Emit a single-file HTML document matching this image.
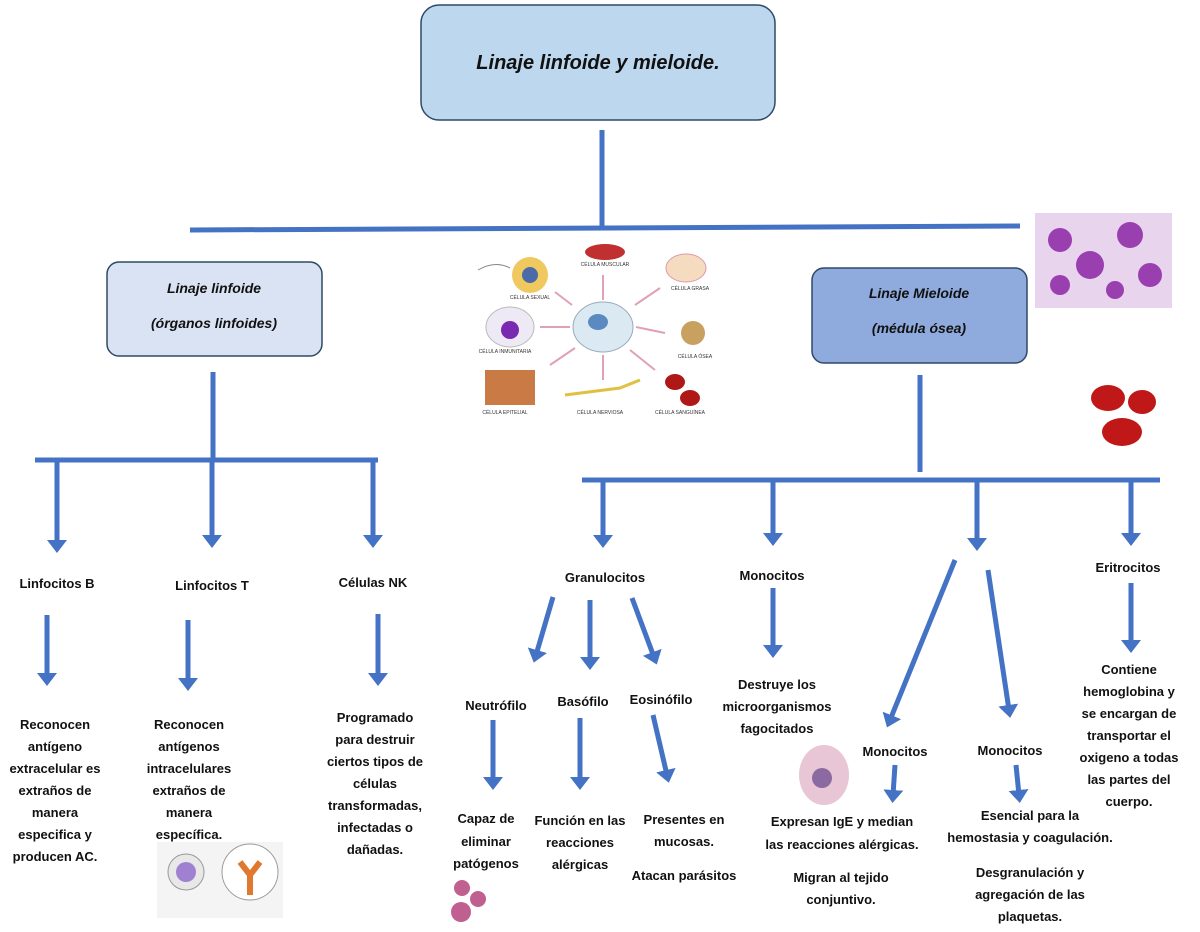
<!DOCTYPE html>
<html><head><meta charset="utf-8"><style>
body{margin:0;background:#fff}
svg text{font-family:"Liberation Sans",sans-serif;font-weight:bold;font-size:13px;fill:#111;text-anchor:middle}
svg text.sm{font-size:5px;font-weight:normal;fill:#333}
</style></head><body>
<svg width="1200" height="927" viewBox="0 0 1200 927" xmlns="http://www.w3.org/2000/svg">
<defs>
<marker id="a" markerWidth="4" markerHeight="4" refX="1" refY="2" orient="auto" markerUnits="strokeWidth">
<path d="M0,0 L2.6,2 L0,4 z" fill="#4472c4"/></marker>
</defs>
<g stroke="#4472c4" stroke-width="5" fill="none">
<line x1="602" y1="130" x2="602" y2="226"/>
<line x1="190" y1="230" x2="1020" y2="226"/>
<line x1="213" y1="372" x2="213" y2="458"/>
<line x1="35" y1="460" x2="378" y2="460"/>
<line x1="920" y1="375" x2="920" y2="472"/>
<line x1="582" y1="480" x2="1160" y2="480"/>
</g>
<g stroke="#4472c4" stroke-width="5" fill="none" marker-end="url(#a)">
<line x1="57" y1="462" x2="57" y2="545"/>
<line x1="212" y1="462" x2="212" y2="540"/>
<line x1="373" y1="462" x2="373" y2="540"/>
<line x1="47" y1="615" x2="47" y2="678"/>
<line x1="188" y1="620" x2="188" y2="683"/>
<line x1="378" y1="614" x2="378" y2="678"/>
<line x1="603" y1="480" x2="603" y2="540"/>
<line x1="773" y1="480" x2="773" y2="538"/>
<line x1="977" y1="480" x2="977" y2="543"/>
<line x1="1131" y1="480" x2="1131" y2="538"/>
<line x1="553" y1="597" x2="536" y2="655"/>
<line x1="590" y1="600" x2="590" y2="662"/>
<line x1="632" y1="598" x2="654" y2="657"/>
<line x1="493" y1="720" x2="493" y2="782"/>
<line x1="580" y1="718" x2="580" y2="782"/>
<line x1="653" y1="715" x2="667" y2="775"/>
<line x1="773" y1="588" x2="773" y2="650"/>
<line x1="955" y1="560" x2="890" y2="720"/>
<line x1="988" y1="570" x2="1009" y2="710"/>
<line x1="895" y1="765" x2="893" y2="795"/>
<line x1="1016" y1="765" x2="1019" y2="795"/>
<line x1="1131" y1="583" x2="1131" y2="645"/>
</g>
<rect x="421" y="5" width="354" height="115" rx="18" fill="#bdd7ee" stroke="#2e4a66" stroke-width="1.5"/>
<text x="598" y="69" style="font-size:20px;font-style:italic">Linaje linfoide y mieloide.</text>
<rect x="107" y="262" width="215" height="94" rx="12" fill="#dae3f3" stroke="#2e4a66" stroke-width="1.5"/>
<text x="214" y="293" style="font-size:14px;font-style:italic">Linaje linfoide</text>
<text x="214" y="328" style="font-size:14px;font-style:italic">(órganos linfoides)</text>
<rect x="812" y="268" width="215" height="95" rx="12" fill="#8faadc" stroke="#2e4a66" stroke-width="1.5"/>
<text x="919" y="298" style="font-size:14px;font-style:italic">Linaje Mieloide</text>
<text x="919" y="333" style="font-size:14px;font-style:italic">(médula ósea)</text>
<g>
<ellipse cx="603" cy="327" rx="30" ry="25" fill="#dbe9f2" stroke="#9ab" /><ellipse cx="598" cy="322" rx="10" ry="8" fill="#5a8ac0"/>
<path d="M478 270 Q495 260 510 268" stroke="#888" fill="none"/>
<circle cx="530" cy="275" r="18" fill="#f0c860"/><circle cx="530" cy="275" r="8" fill="#4a6aa8"/>
<ellipse cx="605" cy="252" rx="20" ry="8" fill="#c03030"/>
<ellipse cx="686" cy="268" rx="20" ry="14" fill="#f5dcc0" stroke="#d9a"/>
<ellipse cx="510" cy="327" rx="24" ry="20" fill="#eeeaf5" stroke="#bbb"/><circle cx="510" cy="330" r="9" fill="#7a2ab0"/>
<circle cx="693" cy="333" r="12" fill="#c8a060"/>
<rect x="485" y="370" width="50" height="35" fill="#c97a45"/>
<path d="M565 395 L620 388 L640 380" stroke="#e0c040" stroke-width="3" fill="none"/>
<ellipse cx="675" cy="382" rx="10" ry="8" fill="#b01818"/><ellipse cx="690" cy="398" rx="10" ry="8" fill="#b01818"/>
<g stroke="#e0a0b8" stroke-width="2"><line x1="572" y1="305" x2="555" y2="292"/><line x1="603" y1="300" x2="603" y2="275"/><line x1="635" y1="305" x2="660" y2="288"/><line x1="570" y1="327" x2="540" y2="327"/><line x1="636" y1="327" x2="665" y2="333"/><line x1="575" y1="348" x2="550" y2="365"/><line x1="603" y1="355" x2="603" y2="380"/><line x1="630" y1="350" x2="655" y2="370"/></g>
<text class="sm" x="530" y="299">CÉLULA SEXUAL</text><text class="sm" x="605" y="266">CÉLULA MUSCULAR</text><text class="sm" x="690" y="290">CÉLULA GRASA</text><text class="sm" x="505" y="353">CÉLULA INMUNITARIA</text><text class="sm" x="695" y="358">CÉLULA ÓSEA</text><text class="sm" x="505" y="414">CÉLULA EPITELIAL</text><text class="sm" x="600" y="414">CÉLULA NERVIOSA</text><text class="sm" x="680" y="414">CÉLULA SANGUÍNEA</text>
</g>
<rect x="1035" y="213" width="137" height="95" fill="#e8d4ec"/>
<g fill="#9a3fb0"><circle cx="1060" cy="240" r="12"/><circle cx="1090" cy="265" r="14"/><circle cx="1130" cy="235" r="13"/><circle cx="1150" cy="275" r="12"/><circle cx="1060" cy="285" r="10"/><circle cx="1115" cy="290" r="9"/></g>
<g fill="#c01818"><ellipse cx="1108" cy="398" rx="17" ry="13"/><ellipse cx="1142" cy="402" rx="14" ry="12"/><ellipse cx="1122" cy="432" rx="20" ry="14"/></g>
<rect x="157" y="842" width="126" height="76" fill="#f4f4f4"/>
<circle cx="186" cy="872" r="18" fill="#e8e8e8" stroke="#999"/><circle cx="186" cy="872" r="10" fill="#a080d0"/>
<circle cx="250" cy="872" r="28" fill="#fff" stroke="#999"/><path d="M240 862 L250 875 L260 862 M250 875 V895" stroke="#e07830" stroke-width="6" fill="none"/>
<g fill="#c06090"><circle cx="462" cy="888" r="8"/><circle cx="478" cy="899" r="8"/><circle cx="461" cy="912" r="10"/></g>
<ellipse cx="824" cy="775" rx="25" ry="30" fill="#e8c6d6"/><circle cx="822" cy="778" r="10" fill="#8a6aa0"/>
<text x="57" y="588">Linfocitos B</text>
<text x="212" y="590">Linfocitos T</text>
<text x="373" y="587">Células NK</text>
<g><text x="55" y="729">Reconocen</text><text x="55" y="751">antígeno</text><text x="55" y="773">extracelular es</text><text x="55" y="795">extraños de</text><text x="55" y="817">manera</text><text x="55" y="839">especifica y</text><text x="55" y="861">producen AC.</text></g>
<g><text x="189" y="729">Reconocen</text><text x="189" y="751">antígenos</text><text x="189" y="773">intracelulares</text><text x="189" y="795">extraños de</text><text x="189" y="817">manera</text><text x="189" y="839">específica.</text></g>
<g><text x="375" y="722">Programado</text><text x="375" y="744">para destruir</text><text x="375" y="766">ciertos tipos de</text><text x="375" y="788">células</text><text x="375" y="810">transformadas,</text><text x="375" y="832">infectadas o</text><text x="375" y="854">dañadas.</text></g>
<text x="605" y="582">Granulocitos</text>
<text x="772" y="580">Monocitos</text>
<text x="1128" y="572">Eritrocitos</text>
<text x="496" y="710">Neutrófilo</text>
<text x="583" y="706">Basófilo</text>
<text x="661" y="704">Eosinófilo</text>
<text x="486" y="823">Capaz de</text><text x="486" y="846">eliminar</text><text x="486" y="868">patógenos</text>
<text x="580" y="825">Función en las</text><text x="580" y="847">reacciones</text><text x="580" y="869">alérgicas</text>
<text x="684" y="824">Presentes en</text><text x="684" y="846">mucosas.</text><text x="684" y="880">Atacan parásitos</text>
<text x="777" y="689">Destruye los</text><text x="777" y="711">microorganismos</text><text x="777" y="733">fagocitados</text>
<text x="895" y="756">Monocitos</text>
<text x="1010" y="755">Monocitos</text>
<text x="842" y="826">Expresan IgE y median</text><text x="842" y="849">las reacciones alérgicas.</text>
<text x="841" y="882">Migran al tejido</text><text x="841" y="904">conjuntivo.</text>
<text x="1030" y="820">Esencial para la</text><text x="1030" y="842">hemostasia y coagulación.</text>
<text x="1030" y="877">Desgranulación y</text><text x="1030" y="899">agregación de las</text><text x="1030" y="921">plaquetas.</text>
<g><text x="1129" y="674">Contiene</text><text x="1129" y="696">hemoglobina y</text><text x="1129" y="718">se encargan de</text><text x="1129" y="740">transportar el</text><text x="1129" y="762">oxigeno a todas</text><text x="1129" y="784">las partes del</text><text x="1129" y="806">cuerpo.</text></g>
</svg>
</body></html>
